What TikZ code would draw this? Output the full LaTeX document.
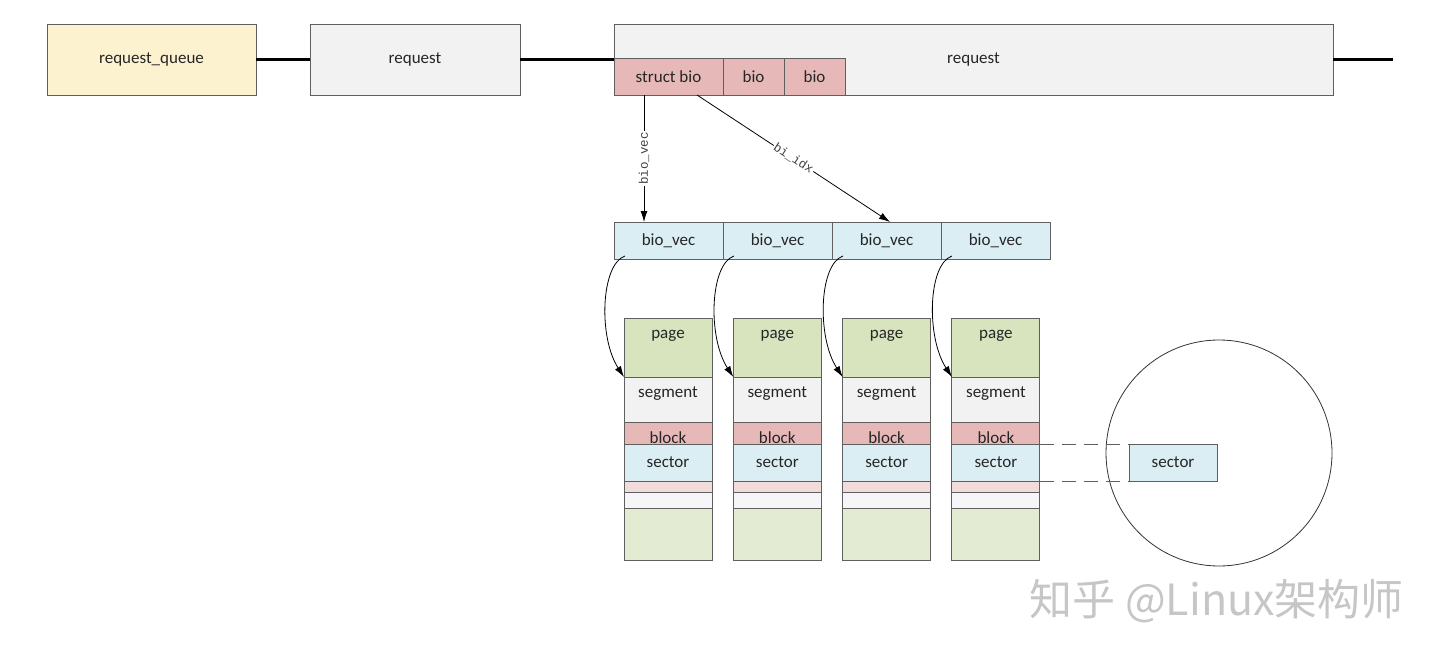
\documentclass[tikz,border=0pt]{standalone}
\usepackage{fontspec}
\setmainfont{Carlito}
\setmonofont{Liberation Mono}
\newfontfamily\cjk{Noto Sans CJK SC}
\usetikzlibrary{arrows.meta,positioning}
\definecolor{cola}{HTML}{FDF2D0}
\definecolor{gris}{HTML}{F2F2F2}
\definecolor{blanco}{HTML}{F6F6F8}
\definecolor{rosa}{HTML}{E6B9B8}
\definecolor{rosaclaro}{HTML}{F2DCDB}
\definecolor{celeste}{HTML}{DBEEF3}
\definecolor{verde}{HTML}{D7E4BD}
\definecolor{verdeclaro}{HTML}{E3EBD2}
\definecolor{borde}{HTML}{5F5F5F}

\begin{document}
\begin{tikzpicture}[x=1pt,y=-1pt,>={Latex[length=11pt,width=7pt]},
  font=\fontsize{17}{20}\selectfont,text=black!85,
  caja/.style={draw=borde,line width=0.9pt,inner sep=0pt,outer sep=0pt},
  capa/.style={caja,minimum width=88pt,minimum height=#1},
  etiq/.style={fill=white,inner sep=1pt,font=\ttfamily\fontsize{12.5}{14}\selectfont,text=black!75}]
  \useasboundingbox (0,0) rectangle (1440,661);
  % cola y peticiones
  \node[caja,fill=cola,minimum width=209pt,minimum height=71pt] (rq) at (151.5,59.5) {request\_queue};
  \node[caja,fill=gris,minimum width=210pt,minimum height=71pt] (r1) at (415,59.5) {request};
  \node[caja,fill=gris,minimum width=719pt,minimum height=71pt] (r2) at (973.5,59.5) {request};
  \draw[line width=2.6pt] (rq.east) -- (r1.west) (r1.east) -- (r2.west) (r2.east) -- +(60,0);
  % bios dentro de la peticion
  \node[caja,fill=rosa,minimum width=109pt,minimum height=37pt,anchor=south west] (sb) at (r2.south west) {struct bio};
  \node[caja,fill=rosa,minimum width=61pt,minimum height=37pt,right=0pt of sb] (b1) {bio};
  \node[caja,fill=rosa,minimum width=61pt,minimum height=37pt,right=0pt of b1] (b2) {bio};
  % vector de bio_vec y columnas de paginas
  \foreach \i in {0,...,3}{
    \node[caja,fill=celeste,minimum width=109pt,minimum height=37pt] (bv\i) at (668.5+109*\i,240.5) {bio\_vec};
    \node[capa=59pt,fill=verde,label={[anchor=base,yshift=-20pt]north:page}] (pg\i) at (668+109.3*\i,347.5) {};
    \node[capa=45pt,fill=gris,below=0pt of pg\i,label={[anchor=base,yshift=-20pt]north:segment}] (sg\i) {};
    \node[capa=22pt,fill=rosa,below=0pt of sg\i,label={[anchor=base,yshift=1pt]south:block}] (bk\i) {};
    \node[capa=37pt,fill=celeste,below=0pt of bk\i] (sc\i) {sector};
    \node[capa=11pt,fill=rosaclaro,below=0pt of sc\i] (rs\i) {};
    \node[capa=16pt,fill=blanco,below=0pt of rs\i] (gr\i) {};
    \node[capa=52pt,fill=verdeclaro,below=0pt of gr\i] (vd\i) {};
    \draw[->,line width=0.8pt] ([shift={(11,-3)}]bv\i.south west) .. controls +(-24,8) and +(-26,-40) .. (sg\i.north west);
  }
  % punteros de struct bio
  \draw[->,line width=0.8pt] ([xshift=30pt]sb.south west) -- node[etiq,rotate=90]{bio\_vec} ([xshift=30pt]bv0.north west);
  \draw[->,line width=0.8pt] ([xshift=83pt]sb.south west) -- node[etiq,sloped]{bi\_idx} ([xshift=58pt]bv2.north west);
  % disco con sector
  \node[draw=black!80,line width=0.8pt,circle,minimum size=226pt,inner sep=0pt] (disco) at (1219,453) {};
  \node[caja,fill=celeste,minimum width=88pt,minimum height=37pt] (sd) at (1173,462.5) {sector};
  \draw[borde,line width=0.9pt,dash pattern=on 14pt off 8pt] (sc3.north east) -- (sd.north west) (sc3.south east) -- (sd.south west);
  % marca de agua
  \node[text=gray!45,font=\cjk\fontsize{43}{47}\selectfont,anchor=west] (marca) at (1026,601) {知乎 @Linux架构师};
\end{tikzpicture}
\end{document}
